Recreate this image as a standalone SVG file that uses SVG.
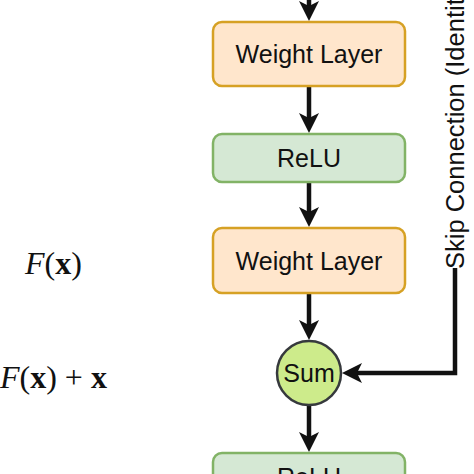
<svg xmlns="http://www.w3.org/2000/svg" width="474" height="474" viewBox="0 0 474 474">
<defs>
<style>
.wl{fill:#ffe6cc;stroke:#d6a124;stroke-width:2.5}
.re{fill:#d5e8d4;stroke:#82b366;stroke-width:2.5}
.sum{fill:#cdeb8b;stroke:#36393d;stroke-width:2.5}
.lbl{font-family:"Liberation Sans",Arial,sans-serif;font-size:25px;fill:#111;text-anchor:middle}
.math{font-family:"Liberation Serif","Times New Roman",serif;font-size:32px;fill:#111}
.edge{fill:none;stroke:#111;stroke-width:4.5}
</style>
<marker id="ah" viewBox="0 0 20 20" refX="12" refY="10" markerWidth="20" markerHeight="20" markerUnits="userSpaceOnUse" orient="auto">
<path d="M0,0 L20,10 L0,20 L5,10 Z" fill="#111"/>
</marker>
</defs>
<rect width="474" height="474" fill="#ffffff"/>
<g id="connectors">
<path class="edge" d="M309,0 V13" marker-end="url(#ah)"/>
<path class="edge" d="M309,86 V125" marker-end="url(#ah)"/>
<path class="edge" d="M309,182 V219" marker-end="url(#ah)"/>
<path class="edge" d="M309,293 V332" marker-end="url(#ah)"/>
<path class="edge" d="M309,405 V444" marker-end="url(#ah)"/>
<path class="edge" d="M455,268 V373 H350" marker-end="url(#ah)"/>
</g>
<g id="weight1">
<rect class="wl" x="213" y="22" width="192" height="64" rx="9"/>
<text class="lbl" x="309" y="63">Weight Layer</text>
</g>
<g id="relu1">
<rect class="re" x="213" y="134" width="192" height="48" rx="9"/>
<text class="lbl" x="309" y="167">ReLU</text>
</g>
<g id="weight2">
<rect class="wl" x="213" y="228" width="192" height="65" rx="9"/>
<text class="lbl" x="309" y="270">Weight Layer</text>
</g>
<g id="sum">
<circle class="sum" cx="309" cy="373" r="32"/>
<text class="lbl" x="309" y="382">Sum</text>
</g>
<g id="relu2">
<rect class="re" x="213" y="453" width="192" height="48" rx="9"/>
<text class="lbl" x="309" y="486">ReLU</text>
</g>
<g id="skip-label">
<text class="lbl" style="text-anchor:start;font-size:25.5px" transform="translate(464,269) rotate(-90)">Skip Connection (Identity)</text>
</g>
<g id="fx">
<text class="math" x="25" y="274"><tspan font-style="italic">F</tspan>(<tspan font-weight="bold">x</tspan>)</text>
</g>
<g id="fxx">
<text class="math" x="0" y="388" xml:space="preserve"><tspan font-style="italic">F</tspan>(<tspan font-weight="bold">x</tspan>) + <tspan font-weight="bold">x</tspan></text>
</g>
</svg>
